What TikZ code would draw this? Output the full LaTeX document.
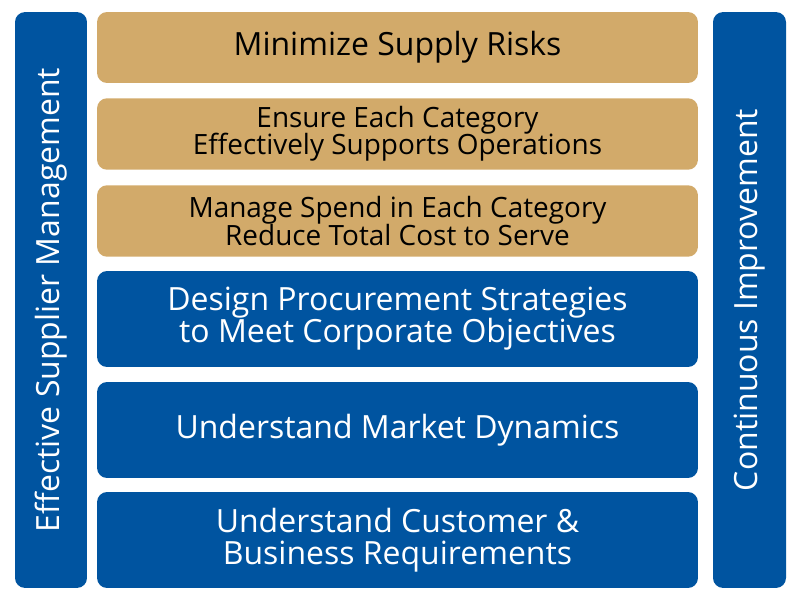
\documentclass[tikz,border=0pt]{standalone}
\usepackage{fontspec}
\setmainfont{Open Sans}
\usepackage{tikz}
\usetikzlibrary{positioning}
\definecolor{supblue}{RGB}{0,84,160}
\definecolor{supgold}{RGB}{210,170,106}
\newcommand{\goldfont}{\fontsize{15.9}{15.4}\selectfont\lineskiplimit=-10pt\relax}
\newcommand{\bluefont}{\fontsize{18.2}{18.2}\selectfont\lineskiplimit=-10pt\relax}
\tikzset{
    block/.style={rounded corners=0.2cm, inner sep=0pt, minimum width=12.02cm, align=center},
    goldblock/.style={block, fill=supgold, text=black, minimum height=1.43cm, font=\goldfont},
    blueblock/.style={block, fill=supblue, text=white, minimum height=1.92cm, font=\bluefont},
    sidebar/.style={rounded corners=0.2cm, inner sep=0pt, fill=supblue, text=white, minimum width=11.52cm, rotate=90, font=\fontsize{18.2}{20}\selectfont}
}
\begin{document}
\begin{tikzpicture}[x=0.02cm, y=-0.02cm]
    \useasboundingbox (0,0) rectangle (800,601);

    \node[sidebar, minimum height=1.44cm] (esm) at (51,300) {Effective Supplier Management};
    \node[sidebar, minimum height=1.46cm] (ci) at (749.5,300) {Continuous Improvement};

    \node[goldblock, minimum height=1.42cm, font=\fontsize{18.2}{20}\selectfont] (risks) at (397.5,47.5) {Minimize Supply Risks};
    \node[goldblock] (ops) at (397.5,134) {Ensure Each Category\\ Effectively Supports Operations};
    \node[goldblock] (spend) at (397.5,221) {Manage Spend in Each Category\\ Reduce Total Cost to Serve};

    \node[blueblock] (design) at (397.5,319) {Design Procurement Strategies\\ to Meet Corporate Objectives};
    \node[blueblock] (market) at (397.5,430) {Understand Market Dynamics};
    \node[blueblock] (customer) at (397.5,540) {Understand Customer \&\\ Business Requirements};
\end{tikzpicture}
\end{document}
